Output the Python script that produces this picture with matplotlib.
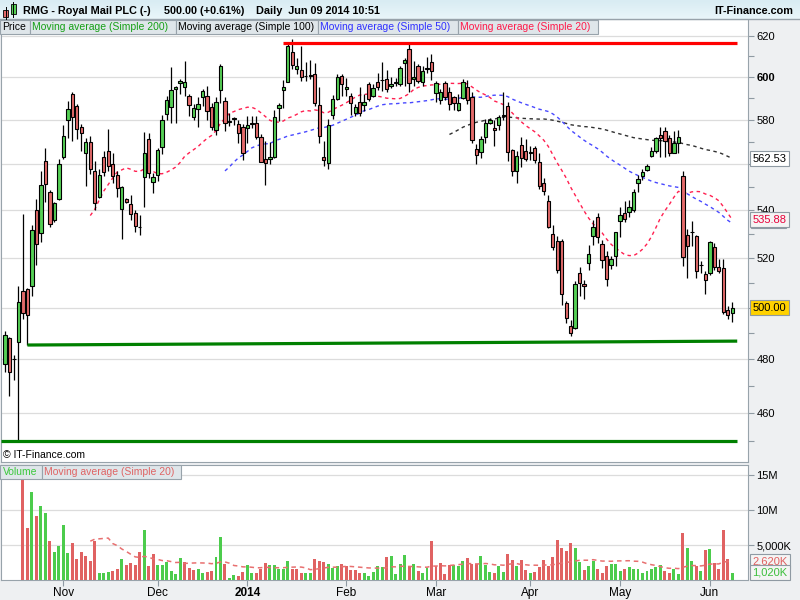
import numpy as np
import pandas as pd
import matplotlib
matplotlib.use("Agg")
import matplotlib.pyplot as plt
from matplotlib.patches import Rectangle
from matplotlib.colors import LinearSegmentedColormap

plt.rcParams['font.family'] = ['Liberation Sans', 'DejaVu Sans']

# RMG daily bars, 15 Oct 2013 - 9 Jun 2014
opens = [478.0, 488.0, 480.0, 486.7, 506.4, 507.3, 508.4, 540.3, 530.3, 561.6,
         547.9, 535.9, 544.7, 563.3, 580.0, 591.8, 586.4, 576.7, 565.2, 570.0,
         557.0, 545.6, 563.3, 565.8, 560.0, 555.3, 540.7, 544.7, 542.7, 538.8,
         532.8, 554.5, 571.4, 552.1, 555.1, 567.9, 582.9, 585.8, 594.2, 597.0,
         595.4, 590.9, 581.3, 585.1, 590.4, 590.9, 586.1, 575.3, 594.1, 588.8,
         579.2, 580.5, 578.1, 576.8, 576.5, 578.0, 578.4, 572.3, 562.2, 562.2,
         563.4, 585.3, 593.9, 597.6, 612.0, 603.7, 603.4, 600.6, 600.3, 601.6,
         586.7, 563.4, 560.7, 582.1, 589.6, 600.5, 594.2, 590.9, 583.2, 588.3,
         586.7, 596.5, 591.2, 597.6, 598.4, 598.9, 596.0, 597.0, 596.8, 606.9,
         613.3, 599.2, 605.1, 597.6, 603.7, 607.2, 592.3, 589.1, 597.1, 592.8,
         590.4, 584.8, 590.1, 595.2, 590.7, 567.0, 565.5, 572.1, 578.8, 576.3,
         577.6, 582.0, 586.4, 566.4, 557.0, 568.6, 565.9, 565.2, 567.4, 561.2,
         551.6, 544.1, 529.9, 527.2, 527.2, 502.0, 492.8, 491.9, 513.8, 509.4,
         518.0, 529.2, 537.0, 525.8, 520.7, 517.1, 521.0, 535.5, 538.7, 539.3,
         540.3, 551.6, 554.8, 557.5, 563.7, 565.9, 572.9, 574.8, 571.9, 565.2,
         569.6, 554.8, 529.4, 530.8, 529.0, 517.0, 513.5, 513.8, 524.6, 516.2,
         515.9, 499.2, 498.0]
highs = [490.8, 488.6, 481.5, 508.4, 538.2, 507.7, 533.8, 544.7, 557.0, 567.1,
         548.9, 543.7, 562.2, 577.8, 588.8, 593.1, 587.2, 578.2, 571.9, 572.6,
         561.5, 557.8, 565.9, 575.9, 565.2, 557.0, 550.4, 545.2, 546.7, 540.0,
         537.9, 574.4, 574.1, 556.3, 567.4, 582.4, 591.2, 604.8, 596.0, 599.2,
         607.7, 592.0, 587.2, 590.4, 594.4, 596.0, 587.7, 590.4, 606.0, 590.4,
         583.0, 581.3, 580.0, 578.0, 582.0, 582.0, 582.0, 573.6, 570.4, 569.9,
         584.8, 588.0, 598.4, 616.0, 618.1, 609.1, 614.9, 607.0, 608.0, 606.9,
         595.2, 570.4, 580.3, 591.5, 601.6, 601.6, 599.5, 592.6, 587.2, 595.5,
         592.0, 597.6, 596.8, 601.9, 607.2, 603.2, 600.0, 599.5, 605.3, 609.1,
         616.5, 607.5, 606.4, 605.3, 609.6, 610.9, 598.1, 594.4, 597.9, 595.2,
         591.2, 592.0, 599.2, 598.4, 592.8, 568.9, 572.6, 580.3, 581.0, 580.0,
         582.4, 592.8, 588.3, 567.0, 565.9, 572.3, 571.4, 568.0, 568.1, 564.9,
         554.1, 546.7, 533.8, 529.2, 527.9, 502.7, 495.1, 510.5, 516.4, 510.9,
         525.5, 535.9, 538.9, 527.3, 522.8, 520.7, 531.0, 541.5, 544.1, 544.4,
         549.0, 555.1, 557.8, 560.0, 567.9, 572.3, 576.6, 576.7, 572.9, 574.8,
         575.2, 557.0, 532.2, 535.3, 529.6, 518.6, 514.8, 527.2, 526.2, 519.6,
         519.6, 500.5, 502.3]
lows = [475.3, 466.1, 472.0, 450.0, 495.5, 485.4, 504.4, 517.2, 526.5, 543.7,
        533.1, 535.2, 544.4, 562.2, 571.9, 570.4, 571.1, 565.9, 550.4, 555.6,
        540.0, 545.2, 554.8, 557.0, 551.9, 545.9, 528.0, 543.0, 535.9, 531.0,
        529.6, 541.5, 554.1, 547.4, 552.6, 564.4, 580.0, 578.4, 578.4, 592.0,
        591.2, 581.6, 580.0, 576.6, 586.4, 580.0, 575.6, 573.3, 588.0, 574.8,
        577.0, 577.6, 569.6, 561.9, 569.6, 576.5, 571.1, 561.0, 551.1, 560.0,
        563.0, 579.7, 585.6, 597.6, 604.0, 601.6, 597.9, 597.9, 599.0, 586.4,
        569.3, 559.3, 558.1, 580.3, 589.3, 591.2, 591.2, 582.4, 581.9, 581.9,
        584.0, 588.8, 590.4, 593.9, 593.6, 592.8, 594.9, 596.0, 596.0, 596.0,
        592.8, 596.0, 597.3, 595.7, 601.9, 598.4, 588.5, 587.2, 589.1, 584.8,
        584.8, 584.3, 589.6, 587.2, 569.6, 560.0, 563.0, 569.6, 578.0, 568.1,
        575.2, 580.0, 561.5, 554.8, 551.9, 558.8, 561.5, 561.9, 560.7, 549.3,
        546.5, 532.3, 523.2, 513.8, 501.2, 493.8, 488.7, 491.5, 504.4, 503.3,
        515.2, 525.5, 526.2, 515.9, 508.7, 515.5, 516.6, 528.9, 535.0, 537.0,
        539.3, 547.9, 553.0, 557.0, 563.3, 565.2, 563.4, 563.4, 563.7, 565.2,
        565.2, 516.8, 511.8, 525.1, 511.8, 513.8, 505.4, 512.9, 515.2, 514.0,
        497.4, 495.4, 494.2]
closes = [489.3, 475.1, 480.0, 502.3, 497.7, 496.9, 531.7, 525.8, 550.7, 551.4,
          534.2, 543.0, 560.0, 572.6, 585.1, 581.3, 575.9, 574.1, 570.0, 557.8,
          543.0, 555.3, 556.7, 559.3, 554.8, 549.6, 550.1, 543.7, 538.2, 533.4,
          532.8, 564.8, 556.0, 554.5, 566.4, 580.0, 589.3, 594.1, 595.2, 598.0,
          597.6, 586.9, 585.4, 587.5, 593.3, 584.0, 576.7, 588.3, 605.3, 578.4,
          579.5, 580.8, 574.1, 564.9, 577.9, 578.4, 572.3, 561.2, 560.7, 563.4,
          581.3, 587.0, 595.2, 614.9, 605.9, 605.3, 600.0, 600.3, 601.1, 588.0,
          572.6, 561.8, 577.6, 589.6, 600.0, 596.8, 595.2, 588.0, 586.1, 583.2,
          588.3, 589.6, 594.9, 595.2, 598.6, 594.4, 596.8, 597.5, 604.3, 608.0,
          597.3, 600.0, 597.9, 602.9, 604.5, 602.9, 597.1, 593.1, 590.4, 587.2,
          587.7, 588.0, 597.6, 589.3, 570.7, 564.0, 571.1, 578.4, 580.0, 575.2,
          581.3, 582.4, 565.6, 557.0, 563.9, 562.9, 562.2, 565.4, 561.9, 550.4,
          548.5, 532.8, 524.6, 515.0, 505.4, 495.7, 490.2, 509.5, 509.8, 508.7,
          521.7, 532.8, 528.6, 519.3, 511.4, 519.6, 530.6, 538.0, 536.2, 541.5,
          547.9, 553.6, 556.7, 559.3, 566.1, 571.9, 571.9, 570.4, 565.2, 569.6,
          572.3, 520.4, 525.1, 530.8, 514.8, 517.0, 511.2, 526.5, 516.2, 514.8,
          498.2, 497.0, 500.0]
# volume in millions of shares
volumes = [0, 0, 0, 0, 17.0, 7.4, 12.6, 9.1, 10.6, 9.6,
           5.6, 4.0, 4.9, 7.9, 3.9, 5.3, 3.0, 4.0, 3.4, 2.7,
           5.6, 1.0, 1.0, 1.2, 1.3, 1.6, 3.0, 2.1, 2.5, 2.1,
           4.0, 7.2, 2.0, 3.7, 2.1, 2.1, 2.6, 1.3, 0.9, 3.1,
           2.6, 1.7, 1.5, 1.6, 1.0, 1.2, 1.3, 3.3, 6.1, 2.3,
           0.3, 0.7, 0.6, 1.2, 2.1, 1.0, 1.0, 1.6, 2.4, 2.1,
           2.1, 1.6, 1.6, 2.7, 1.6, 1.6, 1.0, 1.0, 1.0, 3.0,
           2.7, 2.6, 2.3, 1.7, 2.0, 2.3, 2.0, 1.4, 1.4, 1.0,
           1.0, 0.6, 1.2, 2.0, 1.8, 3.3, 3.4, 0.9, 2.3, 3.6,
           2.0, 2.3, 1.3, 1.0, 1.7, 5.6, 2.0, 2.4, 0.9, 2.1,
           2.1, 2.0, 2.7, 3.1, 2.3, 2.3, 3.4, 2.1, 1.1, 1.0,
           2.0, 1.1, 3.7, 2.9, 2.0, 2.9, 1.4, 1.0, 1.1, 1.9,
           2.9, 2.0, 3.3, 5.7, 4.6, 4.1, 5.3, 4.6, 2.6, 1.4,
           2.0, 2.7, 1.6, 1.0, 2.0, 2.3, 2.3, 1.3, 1.6, 1.8,
           1.6, 1.6, 1.0, 1.3, 1.6, 1.9, 2.1, 1.3, 1.0, 1.6,
           0.9, 6.7, 4.6, 2.7, 2.0, 1.3, 4.3, 4.4, 2.4, 1.6,
           7.1, 3.0, 1.02]

holidays = ['2013-12-25', '2013-12-26', '2014-01-01', '2014-04-18',
            '2014-04-21', '2014-05-05', '2014-05-26']
dates = pd.bdate_range('2013-10-15', '2014-06-09')
dates = dates[~dates.isin(pd.to_datetime(holidays))]

month_labels = ['Nov', 'Dec', '2014', 'Feb', 'Mar', 'Apr', 'May', 'Jun']
price_ticks = [460, 480, 500, 520, 540, 560, 580, 600, 620]
# 500 and 560 sit under the last-value boxes, so no label there
price_tick_labels = ['460', '480', '', '520', '540', '', '580', '600', '620']
price_minor = [450, 470, 490, 510, 530, 550, 570, 590, 610]
vol_ticks = [5, 10, 15]
vol_tick_labels = ['5,000K', '10M', '15M']

# lines drawn by hand on the chart: start bar, start price, end bar, end price
trend_lines = [
    (62.0, 616.3, 163.1, 616.3, '#ff0000'),
    (5.0, 485.4, 163.1, 486.9, '#008000'),
    (-1.0, 449.8, 163.1, 449.8, '#008000'),
]

# last value boxes on the right scale
price_markers = [('562.53', 562.53, 'black', 'white'),
                 ('535.88', 535.88, '#e8003a', '#f4f4f4'),
                 ('500.00', 500.00, 'black', '#ffd200')]
vol_markers = [('2,620K', 2.62, '#e06060', '#f4f4f4'),
               ('1,020K', 1.02, '#3cbf3c', '#f4f4f4')]

GREEN = '#55d055'
RED = '#e46a6a'
VGREEN = '#4ccc4c'
VRED = '#e06262'
EDGE = '#98a3ab'

o = np.array(opens)
h = np.array(highs)
l = np.array(lows)
c = np.array(closes)
n = len(c)
x = np.arange(n)

cl = pd.Series(closes)
ma20 = cl.rolling(20).mean()
ma50 = cl.rolling(50).mean()
ma100 = cl.rolling(100).mean()
vma20 = pd.Series(volumes).rolling(20).mean()

month_starts = [i for i in range(1, n) if dates[i].month != dates[i - 1].month]

W, H = 800, 600
fig = plt.figure(figsize=(8, 6), dpi=100, facecolor='#eef0f2')


def px_box(x0, y0, x1, y1):
    return [x0 / W, 1 - y1 / H, (x1 - x0) / W, (y1 - y0) / H]


xlim = (-0.89, 165.5)

# ---- price panel ----
ax = fig.add_axes(px_box(1, 19, 748, 462))
ax.set_yscale('log')
ax.set_ylim(442.5, 628.2)
ax.set_xlim(*xlim)
ax.yaxis.tick_right()
ax.set_yticks(price_ticks)
labels = ax.set_yticklabels(price_tick_labels)
for lab in labels:
    if lab.get_text() == '600':
        lab.set_fontweight('bold')
ax.set_yticks(price_minor, minor=True)
ax.set_yticklabels([], minor=True)
ax.tick_params(axis='y', which='both', direction='out', length=4, width=0.8,
               color='#8f9aa3', labelsize=8, pad=2)
ax.tick_params(axis='x', bottom=False, labelbottom=False)
ax.grid(axis='y', which='major', color='#dcdcdc', lw=0.9)
ax.set_axisbelow(True)
for sp in ax.spines.values():
    sp.set_color(EDGE)

ax.plot(x, ma100, color='#303030', lw=1.0, ls=(0, (2.5, 2.5)), zorder=2)
ax.plot(x, ma50, color='#4848ff', lw=1.0, ls=(0, (2.5, 2.5)), zorder=2)
ax.plot(x, ma20, color='#ff2050', lw=1.0, ls=(0, (2.5, 2.5)), zorder=2)

ax.vlines(x, l, h, color='black', lw=0.9, zorder=3)
body_low = np.minimum(o, c)
body_h = np.maximum(np.abs(c - o), 0.2)
ax.bar(x, body_h, bottom=body_low, width=0.74,
       color=np.where(c >= o, GREEN, RED), edgecolor='black', linewidth=0.8, zorder=4)

for x0, y0, x1, y1, col in trend_lines:
    ax.plot([x0, x1], [y0, y1], color=col, lw=2.3, solid_capstyle='butt', zorder=5)

ax.add_patch(Rectangle((1.0045, 532.6), 0.047, 5.0, transform=ax.get_yaxis_transform(),
                       facecolor='#f4f4f4', edgecolor='#8f9aa3', lw=0.8,
                       clip_on=False, zorder=9))
for txt, val, tcol, bg in price_markers:
    ax.text(1.006, val, txt, transform=ax.get_yaxis_transform(), ha='left', va='center',
            fontsize=8, color=tcol, zorder=10, clip_on=False,
            bbox=dict(boxstyle='square,pad=0.22', fc=bg, ec='#8f9aa3', lw=0.8))

# ---- volume panel ----
axv = fig.add_axes(px_box(1, 465, 748, 580))
up_day = np.r_[True, c[1:] >= c[:-1]]
axv.bar(x, volumes, width=0.66, color=np.where(up_day, VGREEN, VRED), zorder=3)
axv.plot(x, vma20, color='#e87070', lw=1.1, ls=(0, (3, 2.5)), zorder=4)
axv.set_xlim(*xlim)
axv.set_ylim(0, 16.43)
axv.yaxis.tick_right()
axv.set_yticks(vol_ticks)
axv.set_yticklabels(vol_tick_labels)
axv.tick_params(axis='y', direction='out', length=4, width=0.8, color='#8f9aa3',
                labelsize=8, pad=2)
axv.set_xticks(month_starts)
xl = axv.set_xticklabels(month_labels)
for lab in xl:
    if lab.get_text() == '2014':
        lab.set_fontweight('bold')
        lab.set_fontsize(10)
axv.tick_params(axis='x', direction='out', length=4, width=0.8, color='#8f9aa3',
                labelsize=8.5, pad=1)
axv.grid(axis='y', color='#dcdcdc', lw=0.9)
axv.set_axisbelow(True)
for sp in axv.spines.values():
    sp.set_color(EDGE)
for txt, val, tcol, bg in vol_markers:
    axv.text(1.006, val, txt, transform=axv.get_yaxis_transform(), ha='left', va='center',
             fontsize=8, color=tcol, zorder=10, clip_on=False,
             bbox=dict(boxstyle='square,pad=0.22', fc=bg, ec='#8f9aa3', lw=0.8))

# ---- header, legends, captions ----
top = fig.add_axes([0, 0, 1, 1], zorder=20)
top.patch.set_alpha(0)
grad = np.linspace(0, 1, 20)[:, None]
top.imshow(grad, extent=[0, W, 19, 0], aspect='auto', zorder=0,
           cmap=LinearSegmentedColormap.from_list('bar', ['#d9ecf3', '#e9f6fa']))
top.set_xlim(0, W)
top.set_ylim(H, 0)
top.axis('off')
top.plot([0, W], [19, 19], color=EDGE, lw=1)

# small candle icon
top.plot([5.5, 5.5], [7, 19], color='black', lw=0.7)
top.add_patch(Rectangle((3, 9.5), 5, 7, fc=RED, ec='black', lw=0.6))
top.plot([13, 13], [2, 17], color='black', lw=0.7)
top.add_patch(Rectangle((10.5, 4), 5, 10, fc=GREEN, ec='black', lw=0.6))

hdr = dict(fontsize=7.8, fontweight='bold', va='center', color='black')
top.text(23, 10.5, 'RMG - Royal Mail PLC (-)', **hdr)
top.text(164, 10.5, '500.00 (+0.61%)', **hdr)
top.text(256, 10.5, 'Daily  Jun 09 2014 10:51', **hdr)
top.text(793, 10.5, 'IT-Finance.com', ha='right', fontsize=7.8, fontweight='bold',
         va='center')

price_legend = [(0, 30, 'Price', 'black'),
                (30, 176, 'Moving average (Simple 200)', '#16a016'),
                (176, 318, 'Moving average (Simple 100)', 'black'),
                (318, 458, 'Moving average (Simple 50)', '#3030ff'),
                (458, 598, 'Moving average (Simple 20)', '#ff1a4a')]
for x0, x1, txt, col in price_legend:
    top.add_patch(Rectangle((x0, 20), x1 - x0, 14, fc='#dfe6ea', ec=EDGE, lw=0.8))
    top.text(x0 + 2.5, 27.3, txt, fontsize=7.5, color=col, va='center')

vol_legend = [(0, 42, 'Volume', '#3cc83c'),
              (42, 181, 'Moving average (Simple 20)', '#e06464')]
for x0, x1, txt, col in vol_legend:
    top.add_patch(Rectangle((x0, 465), x1 - x0, 14, fc='#dfe6ea', ec=EDGE, lw=0.8))
    top.text(x0 + 2.5, 472.3, txt, fontsize=7.5, color=col, va='center')

top.text(3, 455, '\u00a9 IT-Finance.com', fontsize=7.5, va='center', color='black')

fig.savefig('out.png', dpi=100, facecolor=fig.get_facecolor())
